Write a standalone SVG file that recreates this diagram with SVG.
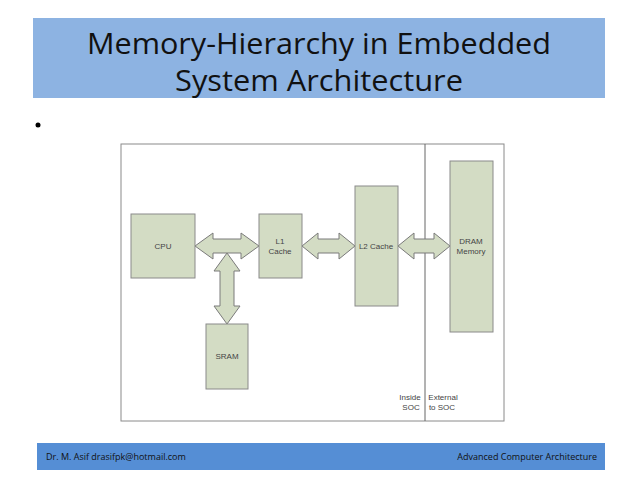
<svg xmlns="http://www.w3.org/2000/svg" width="638" height="479" viewBox="0 0 638 479">
<style>
.box{fill:#d3dcc4;stroke:#8a8a8a;stroke-width:1}
.lbl{font-family:"Liberation Sans",Arial,sans-serif;font-size:8px;fill:#444;text-anchor:middle}
.arr{fill:#d3dcc4;stroke:#7a7a7a;stroke-width:1}
.ttl{font-family:"Open Sans","Liberation Sans",sans-serif;font-size:29px;fill:#111;text-anchor:middle}
.ft{font-family:"Open Sans","Liberation Sans",sans-serif;font-size:9px;fill:#111}
</style>
<rect width="638" height="479" fill="#fff"/>
<rect x="33" y="18" width="572" height="80" fill="#8db3e2"/>
<text class="ttl" x="319" y="54" textLength="464" lengthAdjust="spacingAndGlyphs">Memory-Hierarchy in Embedded</text>
<text class="ttl" x="319" y="91" textLength="288" lengthAdjust="spacingAndGlyphs">System Architecture</text>
<circle cx="38" cy="125" r="2.5" fill="#000"/>
<rect x="121" y="144" width="383" height="277" fill="#fff" stroke="#8a8a8a" stroke-width="1"/>
<line x1="425" y1="144" x2="425" y2="421" stroke="#666" stroke-width="1"/>
<g id="connectors">
<polygon class="arr" points="195,246 213,233 213,239 241,239 241,233 259,246 241,259 241,253 213,253 213,259"/>
<polygon class="arr" points="227,253 240,271 234,271 234,306 240,306 227,324 214,306 220,306 220,271 214,271"/>
<polygon class="arr" points="302,246 318,233 318,239 339,239 339,233 355,246 339,259 339,253 318,253 318,259"/>
<polygon class="arr" points="398,246 414,233 414,239 434,239 434,233 450,246 434,259 434,253 414,253 414,259"/>
</g>
<g id="cpu"><rect class="box" x="131" y="214" width="64" height="64"/><text class="lbl" x="163" y="249">CPU</text></g>
<g id="l1"><rect class="box" x="259" y="214" width="43" height="64"/><text class="lbl" x="280" y="244">L1</text><text class="lbl" x="280" y="254">Cache</text></g>
<g id="l2"><rect class="box" x="355" y="186" width="43" height="120"/><text class="lbl" x="376" y="249">L2 Cache</text></g>
<g id="dram"><rect class="box" x="450" y="161" width="43" height="171"/><text class="lbl" x="471" y="244">DRAM</text><text class="lbl" x="471" y="254">Memory</text></g>
<g id="sram"><rect class="box" x="206" y="324" width="42" height="65"/><text class="lbl" x="227" y="359">SRAM</text></g>
<text class="lbl" x="410" y="400">Inside</text><text class="lbl" x="411" y="410">SOC</text>
<text class="lbl" x="443" y="400">External</text><text class="lbl" x="442" y="410">to SOC</text>
<rect x="37" y="443" width="568" height="27" fill="#558ed5"/>
<text class="ft" x="46" y="460">Dr. M. Asif  drasifpk@hotmail.com</text>
<text class="ft" x="597" y="460" text-anchor="end">Advanced Computer Architecture</text>
</svg>
